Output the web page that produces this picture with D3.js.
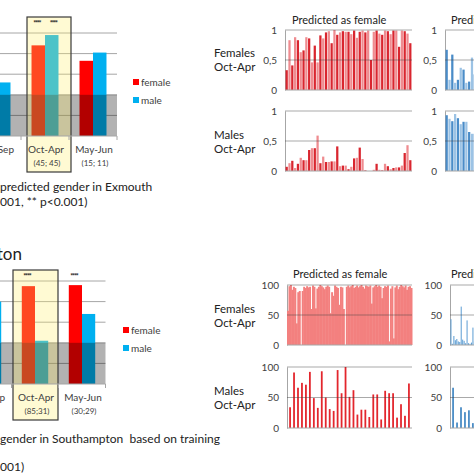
<!DOCTYPE html>
<html lang="en">
<head>
<meta charset="UTF-8">
<title>Predicted gender by season</title>
<script src="https://d3js.org/d3.v7.min.js"></script>
<style>
  body { margin: 0; background: #fff; font-family: Lato, "Open Sans", sans-serif; }
  svg { display: block; }
</style>
</head>
<body>
<svg id="chart" width="474" height="474"></svg>
<script>
// ---- data ----
const seasons = ["Jul-Sep", "Oct-Apr", "May-Jun"];
const pctTicks = [20, 40, 60, 80, 100];
const chanceLevel = 40;

const exmouthFemale = [null, 88, 73];
const exmouthMale = [52, 98, 81];
const exmouthN = [null, "(45; 45)", "(15; 11)"];
const exmouthStars = [["Oct-Apr", "female"], ["Oct-Apr", "male"]];

const sotonFemale = [null, 95, 96];
const sotonMale = [80, 42, 68];
const sotonN = [null, "(85;31)", "(30;29)"];
const sotonStars = [["Oct-Apr", "female"], ["May-Jun", "female"]];

// Exmouth, per individual, probability (0-1)
const exFemAsFemale = [0.33,0.83,0.41,0.88,0.83,0.63,0.66,0.88,0.86,0.46,0.74,0.46,0.91,0.86,0.96,0.98,0.78,1.0,0.92,0.96,0.98,0.97,0.97,0.93,0.99,0.87,0.97,0.99,0.96,0.99,0.5,0.97,0.99,0.94,0.92,0.99,0.98,0.93,0.99,0.99,0.72,0.99,0.98,0.94,0.78];
const exFemAsMale = [0.67,0.17,0.59,0.12,0.17,0.37,0.34,0.12,0.14,0.54,0.26,0.54,0.09,0.14,0.04,0.02,0.22,0.0,0.08,0.04,0.02,0.03,0.03,0.07,0.01,0.13,0.03,0.01,0.04,0.01,0.5,0.03,0.01,0.06,0.08,0.01,0.02,0.07,0.01,0.01,0.28,0.01,0.02,0.06,0.22];
const exMaleAsFemale = [0.07,0.13,0.17,0.05,0.12,0.22,0.18,0.18,0.35,0.38,0.38,0.59,0.13,0.24,0.15,0.15,0.16,0.16,0.41,0.08,0.09,0.09,0.03,0.07,0.21,0.22,0.39,0.2,0.01,0.0,0.0,0.02,0.12,0.02,0.01,0.12,0.08,0.03,0.05,0.06,0.06,0.09,0.3,0.43,0.18];
const exMaleAsMale = [0.93,0.87,0.83,0.95,0.88,0.78,0.82,0.82,0.65,0.62,0.62,0.41,0.87,0.76,0.85,0.85,0.84,0.84,0.59,0.92,0.91,0.91,0.97,0.93,0.79,0.78,0.61,0.8,0.99,1.0,1.0,0.98,0.88,0.98,0.99,0.88,0.92,0.97,0.95,0.94,0.94,0.91,0.7,0.57,0.82];

// Southampton, per individual, percent
const soFemAsFemale = [57,98,100,92,97,95,36,88,90,0,90,97,95,98,96,97,60,99,97,61,94,97,100,98,96,93,97,99,97,53,88,82,99,97,95,67,97,96,60,0,97,99,96,98,100,95,97,99,96,98,100,97,94,99,98,97,99,69,96,98,100,97,99,97,78,95,98,97,99,6,94,98,11,96,99,93,97,100,98,96,99,92,97,98,95];
const soFemAsMale = [43,2,15,8,10,6,5,64,9,7,3,41,3,2,4,29,6,3,2,4];
const soMaleAsFemale = [34,91,66,74,71,92,49,33,93,50,31,28,95,57,100,51,62,22,30,30,18,55,55,14,61,57,57,17,39,20,73];
const soMaleAsMale = [66,9,34,26,29,8,51,67,7,50,69,72,5,43,0,49,38,78,70,70,82,45,45,86,39,43,43,83,61,80,27];

const svg = d3.select("#chart");
const sexColor = { female: "#ff0000", male: "#00b0f0" };

// ---- season bar charts (left) ----
function seasonChart(cfg) {
  const g = svg.append("g");
  const x = d3.scaleBand().domain(seasons).range(cfg.xRange);
  const sub = d3.scaleBand().domain(["female", "male"]).range([0, x.bandwidth()]).paddingOuter(0.78);
  const y = d3.scaleLinear().domain([0, 100]).range(cfg.yRange);
  const right = cfg.xRange[1];

  g.selectAll(".grid").data(pctTicks).join("line")
    .attr("x1", 0).attr("x2", right)
    .attr("y1", d => y(d)).attr("y2", d => y(d))
    .attr("stroke", "#a6a6a6");

  const rows = seasons.map((s, i) => ({ s, female: cfg.female[i], male: cfg.male[i] }));
  ["female", "male"].forEach(sex => {
    g.selectAll(".b-" + sex).data(rows.filter(r => r[sex] != null)).join("rect")
      .attr("x", d => x(d.s) + sub(sex))
      .attr("width", sub.bandwidth())
      .attr("y", d => y(d[sex]))
      .attr("height", d => y(0) - y(d[sex]))
      .attr("fill", sexColor[sex]);
  });

  // chance band
  g.append("rect")
    .attr("x", 0).attr("width", right)
    .attr("y", y(chanceLevel)).attr("height", y(0) - y(chanceLevel))
    .attr("fill", "rgba(0,0,0,0.3)");

  // highlight box around winter season
  g.append("rect")
    .attr("x", cfg.box[0]).attr("width", cfg.box[1] - cfg.box[0])
    .attr("y", cfg.box[2]).attr("height", cfg.box[3] - cfg.box[2])
    .attr("fill", "rgba(255,238,110,0.3)")
    .attr("stroke", "#3a3a3a").attr("stroke-width", 1.2);

  g.append("line")
    .attr("x1", 0).attr("x2", right)
    .attr("y1", y(0)).attr("y2", y(0))
    .attr("stroke", "#a6a6a6");
  g.selectAll(".tick").data(seasons.slice(1)).join("line")
    .attr("x1", d => x(d)).attr("x2", d => x(d))
    .attr("y1", y(0)).attr("y2", y(0) + 4)
    .attr("stroke", "#a6a6a6");
  g.append("line")
    .attr("x1", right).attr("x2", right)
    .attr("y1", y(0)).attr("y2", y(0) + 4)
    .attr("stroke", "#a6a6a6");

  // significance marks, nudged apart like the original
  g.selectAll(".star").data(cfg.stars).join("text")
    .attr("x", d => x(d[0]) + sub(d[1]) + sub.bandwidth() / 2 + (d[1] === "female" ? -1.5 : 1.5))
    .attr("y", cfg.starY)
    .attr("text-anchor", "middle")
    .attr("font-size", 7).attr("font-weight", "bold").attr("letter-spacing", -1.2).attr("fill", "#222")
    .text("****");

  g.selectAll(".cat").data(seasons).join("text")
    .attr("x", d => x(d) + x.bandwidth() / 2 + 1)
    .attr("y", y(0) + 17)
    .attr("text-anchor", "middle")
    .attr("font-size", 10).attr("fill", "#404040")
    .text(d => d);

  g.selectAll(".n").data(seasons.map((s, i) => [s, cfg.n[i]]).filter(d => d[1])).join("text")
    .attr("x", d => x(d[0]) + x.bandwidth() / 2 + 2)
    .attr("y", y(0) + 30)
    .attr("text-anchor", "middle")
    .attr("font-size", 8).attr("fill", "#404040")
    .text(d => d[1]);

  ["female", "male"].forEach((sex, i) => {
    g.append("rect")
      .attr("x", cfg.legend[0]).attr("y", cfg.legend[1] + i * 18 - 3)
      .attr("width", 6).attr("height", 6)
      .attr("fill", sexColor[sex]);
    g.append("text")
      .attr("x", cfg.legend[0] + 8).attr("y", cfg.legend[1] + i * 18 + 3.5)
      .attr("font-size", 10).attr("fill", "#404040")
      .text(sex);
  });

  cfg.caption.forEach(c => {
    g.append("text")
      .attr("x", 0).attr("y", c[1])
      .attr("font-size", 12).attr("fill", "#222")
      .style("white-space", "pre")
      .text(c[0]);
  });
}

seasonChart({
  female: exmouthFemale, male: exmouthMale, n: exmouthN, stars: exmouthStars,
  xRange: [-27, 117], yRange: [136, 33],
  box: [27, 71, 17, 172], starY: 26, legend: [133, 82],
  caption: [["predicted gender in Exmouth", 191], ["001, ** p<0.001)", 206]]
});

seasonChart({
  female: sotonFemale, male: sotonMale, n: sotonN, stars: sotonStars,
  xRange: [-35.5, 105.5], yRange: [384, 281],
  box: [13, 58, 270, 420], starY: 279, legend: [123, 330],
  caption: [["gender in Southampton\u00a0 based on training", 443], ["001)", 471]]
});

svg.append("text")
  .attr("x", 22).attr("y", 260)
  .attr("text-anchor", "end")
  .attr("font-size", 17).attr("fill", "#222")
  .text("Southampton");

// ---- individual prediction panels (right) ----
function ratePanel(cfg) {
  const g = svg.append("g");
  const x = d3.scaleBand().domain(d3.range(cfg.count)).range([cfg.x0, cfg.x1]).padding(cfg.pad);
  const y = d3.scaleLinear().domain([0, cfg.max]).range([cfg.yBot, cfg.yTop]);
  const overlap = cfg.pad === 0 ? 0.5 : 0;

  const ax = g.append("g")
    .attr("transform", `translate(${cfg.x0},0)`)
    .call(d3.axisLeft(y).tickValues(cfg.ticks).tickSize(0).tickPadding(8)
      .tickFormat(d => String(d).replace(".", ",")));
  ax.select(".domain").attr("stroke", "#a6a6a6");
  ax.selectAll("text").attr("font-size", 10).attr("fill", "#404040")
    .attr("font-family", "Lato, sans-serif");

  g.selectAll("rect").data(cfg.values).join("rect")
    .attr("x", (d, i) => x(i))
    .attr("width", x.bandwidth() + overlap)
    .attr("y", d => y(d))
    .attr("height", d => y(0) - y(d))
    .attr("fill", (d, i) => cfg.colors[i % cfg.colors.length]);

  g.selectAll(".grid").data(cfg.ticks.filter(t => t > 0)).join("line")
    .attr("x1", cfg.x0).attr("x2", cfg.x1)
    .attr("y1", d => y(d)).attr("y2", d => y(d))
    .attr("stroke", "#404040").attr("stroke-opacity", 0.45);
  g.append("line")
    .attr("x1", cfg.x0).attr("x2", cfg.x1)
    .attr("y1", y(0)).attr("y2", y(0))
    .attr("stroke", "#a6a6a6");
}

const redPair = ["#d9262f", "#ef8c90"];
const bluePair = ["#4a8cc8", "#9cc3e5"];
const probTicks = [0, 0.5, 1];
const pctPanelTicks = [0, 50, 100];

ratePanel({ values: exFemAsFemale, count: 45, x0: 285, x1: 412, yTop: 30, yBot: 90, max: 1, ticks: probTicks, pad: 0.2, colors: redPair });
ratePanel({ values: exMaleAsFemale, count: 45, x0: 285, x1: 412, yTop: 111, yBot: 171, max: 1, ticks: probTicks, pad: 0.2, colors: redPair });
ratePanel({ values: exFemAsMale, count: 45, x0: 445, x1: 572, yTop: 30, yBot: 90, max: 1, ticks: probTicks, pad: 0.2, colors: bluePair });
ratePanel({ values: exMaleAsMale, count: 45, x0: 445, x1: 572, yTop: 111, yBot: 171, max: 1, ticks: probTicks, pad: 0.2, colors: bluePair });

ratePanel({ values: soFemAsFemale, count: 85, x0: 287, x1: 412, yTop: 285, yBot: 345, max: 100, ticks: pctPanelTicks, pad: 0, colors: ["#f3807f"] });
ratePanel({ values: soMaleAsFemale, count: 31, x0: 287, x1: 412, yTop: 367, yBot: 428, max: 100, ticks: pctPanelTicks, pad: 0.55, colors: ["#e3262d"] });
ratePanel({ values: soFemAsMale, count: 85, x0: 450, x1: 575, yTop: 285, yBot: 345, max: 100, ticks: pctPanelTicks, pad: 0.3, colors: ["#5f9fd4"] });
ratePanel({ values: soMaleAsMale, count: 31, x0: 450, x1: 575, yTop: 367, yBot: 428, max: 100, ticks: pctPanelTicks, pad: 0.55, colors: ["#4a8cc5"] });

// titles and row labels
const panelTitles = [["Predicted as female", 292, 24], ["Predicted as male", 451, 24],
                     ["Predicted as female", 293, 278], ["Predicted as male", 451, 278]];
svg.selectAll(".ptitle").data(panelTitles).join("text")
  .attr("x", d => d[1]).attr("y", d => d[2])
  .attr("font-size", 11).attr("fill", "#222")
  .text(d => d[0]);

const rowLabels = [["Females", "Oct-Apr", 57], ["Males", "Oct-Apr", 139],
                   ["Females", "Oct-Apr", 313], ["Males", "Oct-Apr", 395]];
rowLabels.forEach(r => {
  const t = svg.append("text").attr("x", 214).attr("y", r[2])
    .attr("font-size", 11.5).attr("fill", "#222");
  t.append("tspan").attr("x", 214).text(r[0]);
  t.append("tspan").attr("x", 214).attr("dy", 14).text(r[1]);
});
</script>
</body>
</html>
